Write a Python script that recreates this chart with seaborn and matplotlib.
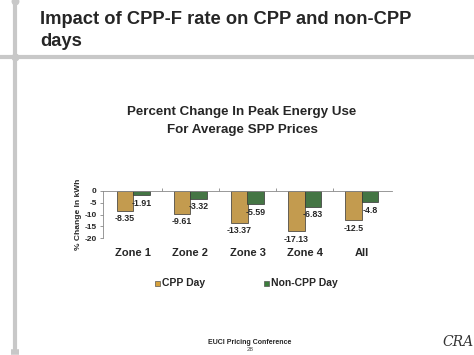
import matplotlib
matplotlib.use("Agg")
import matplotlib.pyplot as plt
import matplotlib.ticker as mticker
import seaborn as sns
import pandas as pd

# values
zones = ["Zone 1", "Zone 2", "Zone 3", "Zone 4", "All"]
cpp_day = [-8.35, -9.61, -13.37, -17.13, -12.5]
non_cpp_day = [-1.91, -3.32, -5.59, -6.83, -4.8]
series_names = ["CPP Day", "Non-CPP Day"]
y_ticks = [0, -5, -10, -15, -20]

df = pd.DataFrame({
    "zone": zones * 2,
    "serie": [series_names[0]] * len(zones) + [series_names[1]] * len(zones),
    "valor": cpp_day + non_cpp_day,
})

sns.set_style("white")
plt.rcParams["font.family"] = ["Liberation Sans", "DejaVu Sans"]
plt.rcParams["axes.unicode_minus"] = False

fig = plt.figure(figsize=(4.74, 3.55), dpi=100)

# slide decoration (grey rules)
deco = fig.add_axes([0, 0, 1, 1])
deco.set_xlim(0, 474)
deco.set_ylim(355, 0)
deco.axis("off")
deco.plot([15, 15], [0, 352], color="#c8c8c8", lw=3, solid_capstyle="butt")
deco.plot([0, 474], [57, 57], color="#c8c8c8", lw=3, solid_capstyle="butt")
deco.plot([11, 19], [352, 352], color="#c8c8c8", lw=4, solid_capstyle="butt")
deco.scatter([15, 15], [57, 1], s=22, color="#c8c8c8", zorder=3)

fig.text(40 / 474, 1 - 20 / 355, "Impact of CPP-F rate on CPP and non-CPP",
         fontsize=13.2, fontweight="bold", va="center", ha="left")
fig.text(40 / 474, 1 - 41 / 355, "days",
         fontsize=13.2, fontweight="bold", va="center", ha="left")

fig.text(242 / 474, 1 - 112 / 355, "Percent Change In Peak Energy Use",
         fontsize=9.6, fontweight="bold", ha="center", va="center")
fig.text(242 / 474, 1 - 130 / 355, "For Average SPP Prices",
         fontsize=9.6, fontweight="bold", ha="center", va="center")

ax = fig.add_axes([103 / 474, 1 - 238.3 / 355, 289 / 474, 47.6 / 355])
cores = {"CPP Day": "#d6a13c", "Non-CPP Day": "#3c7d3c"}
sns.barplot(data=df, x="zone", y="valor", hue="serie", order=zones,
            hue_order=series_names, palette=cores, width=0.58, gap=0,
            edgecolor="#333333", linewidth=0.5, ax=ax, legend=False)

for cont in ax.containers:
    for bar in cont:
        v = bar.get_height()
        ax.annotate(f"{v:g}", (bar.get_x() + bar.get_width() / 2, v),
                    xytext=(0, -8), textcoords="offset pixels",
                    ha="center", va="center", fontsize=6.3, fontweight="bold")

ax.set_ylim(-20, 0)
ax.set_xlim(-0.53, 4.53)
ax.set_yticks(y_ticks)
ax.set_xlabel("")
ax.set_ylabel("% Change In kWh", fontsize=6, fontweight="bold", labelpad=2)
for s in ["right", "bottom"]:
    ax.spines[s].set_visible(False)
ax.spines["left"].set_color("#888888")
ax.spines["left"].set_linewidth(0.6)
ax.spines["top"].set_color("#888888")
ax.spines["top"].set_linewidth(0.6)
ax.tick_params(axis="y", left=True, length=2.5, width=0.6, color="#888888",
               labelsize=6, pad=2)
for t in ax.get_yticklabels():
    t.set_fontweight("bold")
ax.xaxis.set_minor_locator(mticker.FixedLocator([0.5, 1.5, 2.5, 3.5]))
ax.tick_params(axis="x", which="major", bottom=False, length=0, pad=7, labelsize=8)
ax.tick_params(axis="x", which="minor", top=True, bottom=False, direction="out",
               length=2.5, width=0.6, color="#888888")
for t in ax.get_xticklabels():
    t.set_fontweight("bold")

# legend
for nome, x in zip(series_names, [157, 266.5]):
    fig.patches.append(plt.Rectangle(((x - 2.5) / 474, 1 - 285.5 / 355), 5 / 474, 5 / 355,
                                     transform=fig.transFigure, facecolor=cores[nome],
                                     edgecolor="#555555", linewidth=0.5))
    fig.text((x + 4.5) / 474, 1 - 283 / 355, nome, fontsize=7.5, fontweight="bold",
             ha="left", va="center")

fig.text(250 / 474, 1 - 342 / 355, "EUCI Pricing Conference", fontsize=5,
         fontweight="bold", ha="center", va="center")
fig.text(250 / 474, 1 - 349.5 / 355, "28", fontsize=4.5, ha="center", va="center",
         color="#444444")
fig.text(458 / 474, 1 - 342 / 355, "CRA", fontsize=10, family="DejaVu Serif",
         style="italic", ha="center", va="center", color="#333333")

fig.savefig("out.png", dpi=100)
